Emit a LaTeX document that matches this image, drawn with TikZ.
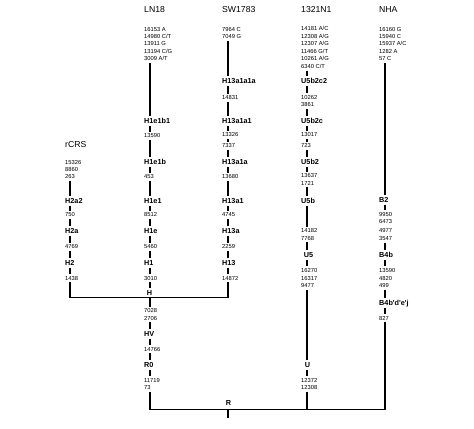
\documentclass[tikz,border=0pt]{standalone}
\usepackage{fontspec}
\setmainfont{Liberation Sans}
\begin{document}
\begin{tikzpicture}[x=1bp,y=-1bp,
  num/.style={font=\fontsize{5.8}{7.5}\selectfont, anchor=west, inner xsep=0pt, inner ysep=2bp, align=left},
  lab/.style={font=\bfseries\fontsize{7.3}{8}\selectfont, anchor=west, inner xsep=0pt, inner ysep=2bp, text depth=0pt},
  hdr/.style={font=\fontsize{8.7}{10}\selectfont, anchor=west, inner sep=0pt},
  link/.style={line width=1.3bp, black}]
\useasboundingbox (0,0) rectangle (474,428);
% column line positions
\coordinate (xa) at (70,0);
\coordinate (xb) at (150,0);
\coordinate (xc) at (228,0);
\coordinate (xd) at (307,0);
\coordinate (xe) at (385,0);
\coordinate (hj) at (150,297.5);
\coordinate (rj) at (228,409.5);
\coordinate (rt) at (228,418);
% rCRS
\node[hdr] (a0) at (65,145) {rCRS};
\node[num] (a1) at (65,169.5) {15326\\8860\\263};
\node[lab] (a2) at (65,201) {H2a2};
\node[num] (a3) at (65,215) {750};
\node[lab] (a4) at (65,231) {H2a};
\node[num] (a5) at (65,247) {4769};
\node[lab] (a6) at (65,263) {H2};
\node[num] (a7) at (65,278) {1438};
% LN18
\node[hdr] (b0) at (144,10) {LN18};
\node[num] (b1) at (144,44) {16153 A\\14980 C/T\\13911 G\\13194 C/G\\3009 A/T};
\node[lab] (b2) at (144,121) {H1e1b1};
\node[num] (b3) at (144,136) {13590};
\node[lab] (b4) at (144,162) {H1e1b};
\node[num] (b5) at (144,177) {453};
\node[lab] (b6) at (144,201) {H1e1};
\node[num] (b7) at (144,215) {8512};
\node[lab] (b8) at (144,231) {H1e};
\node[num] (b9) at (144,247) {5460};
\node[lab] (b10) at (144,263) {H1};
\node[num] (b11) at (144,278) {3010};
\node[lab,anchor=center] (bH) at (149.5,292.5) {H};
\node[num] (b12) at (144,314.5) {7028\\2706};
\node[lab] (b13) at (144,334) {HV};
\node[num] (b14) at (144,349) {14766};
\node[lab] (b15) at (144,365) {R0};
\node[num] (b16) at (144,384) {11719\\73};
% SW1783
\node[hdr] (c0) at (222,10) {SW1783};
\node[num] (c1) at (222,33) {7964 C\\7049 G};
\node[lab] (c2) at (222,81) {H13a1a1a};
\node[num] (c3) at (222,98) {14831};
\node[lab] (c4) at (222,121) {H13a1a1};
\node[num] (c5) at (222,135) {13326};
\node[num] (c5b) at (222,146) {7337};
\node[lab] (c6) at (222,162) {H13a1a};
\node[num] (c7) at (222,177) {13680};
\node[lab] (c8) at (222,201) {H13a1};
\node[num] (c9) at (222,215) {4745};
\node[lab] (c10) at (222,231) {H13a};
\node[num] (c11) at (222,247) {2259};
\node[lab] (c12) at (222,263) {H13};
\node[num] (c13) at (222,278) {14872};
% 1321N1
\node[hdr] (d0) at (301,10) {1321N1};
\node[num] (d1) at (301,47.5) {14181 A/C\\12308 A/G\\12307 A/G\\11466 G/T\\10261 A/G\\6340 C/T};
\node[lab] (d2) at (301,81) {U5b2c2};
\node[num] (d3) at (301,101) {10262\\3861};
\node[lab] (d4) at (301,121) {U5b2c};
\node[num] (d5) at (301,135) {13017};
\node[num] (d5b) at (301,146) {723};
\node[lab] (d6) at (301,162) {U5b2};
\node[num] (d7) at (301,179.5) {13637\\1721};
\node[lab] (d8) at (301,201) {U5b};
\node[num] (d9) at (301,234.5) {14182\\7768};
\node[lab,anchor=center] (d10) at (308.5,255) {U5};
\node[num] (d11) at (301,278) {16270\\16317\\9477};
\node[lab,anchor=center] (d12) at (307.5,365) {U};
\node[num] (d13) at (301,384) {12372\\12308};
% NHA
\node[hdr] (e0) at (379,10) {NHA};
\node[num] (e1) at (379,44) {16160 G\\15940 C\\15937 A/C\\1282 A\\57 C};
\node[lab] (e2) at (379,200) {B2};
\node[num] (e3) at (379,218) {9950\\6473};
\node[num] (e3b) at (379,234.7) {4977\\3547};
\node[lab] (e4) at (379,255) {B4b};
\node[num] (e5) at (379,278) {13590\\4820\\499};
\node[lab] (e6) at (379,303) {B4b\textquotesingle d\textquotesingle e\textquotesingle j};
\node[num] (e7) at (379,318) {827};
% R
\node[lab,anchor=center] (R) at (228.5,403) {R};
% connectors
\foreach \p/\q in {a1/a2,a2/a3,a3/a4,a4/a5,a5/a6,a6/a7}
  \draw[link] (\p.south -| xa) -- (\q.north -| xa);
\foreach \p/\q in {b1/b2,b2/b3,b3/b4,b4/b5,b5/b6,b6/b7,b7/b8,b8/b9,b9/b10,b10/b11,b11/bH,b12/b13,b13/b14,b14/b15,b15/b16}
  \draw[link] (\p.south -| xb) -- (\q.north -| xb);
\foreach \p/\q in {c1/c2,c2/c3,c3/c4,c4/c5,c5/c5b,c5b/c6,c6/c7,c7/c8,c8/c9,c9/c10,c10/c11,c11/c12,c12/c13}
  \draw[link] (\p.south -| xc) -- (\q.north -| xc);
\foreach \p/\q in {d1/d2,d2/d3,d3/d4,d4/d5,d5/d5b,d5b/d6,d6/d7,d7/d8,d8/d9,d9/d10,d10/d11,d11/d12,d12/d13}
  \draw[link] (\p.south -| xd) -- (\q.north -| xd);
\foreach \p/\q in {e1/e2,e2/e3,e3b/e4,e4/e5,e5/e6,e6/e7}
  \draw[link] (\p.south -| xe) -- (\q.north -| xe);
% H junction
\draw[link] (a7.south -| xa) -- (hj -| xa) -- (hj -| xc) -- (c13.south -| xc);
\draw[link] (hj) -- (b12.north -| xb);
% R junction
\draw[link] (b16.south -| xb) -- (rj -| xb) -- (rj -| xe) -- (e7.south -| xe);
\draw[link] (d13.south -| xd) -- (rj -| xd);
\draw[link] (rj) -- (rt);
\end{tikzpicture}
\end{document}
